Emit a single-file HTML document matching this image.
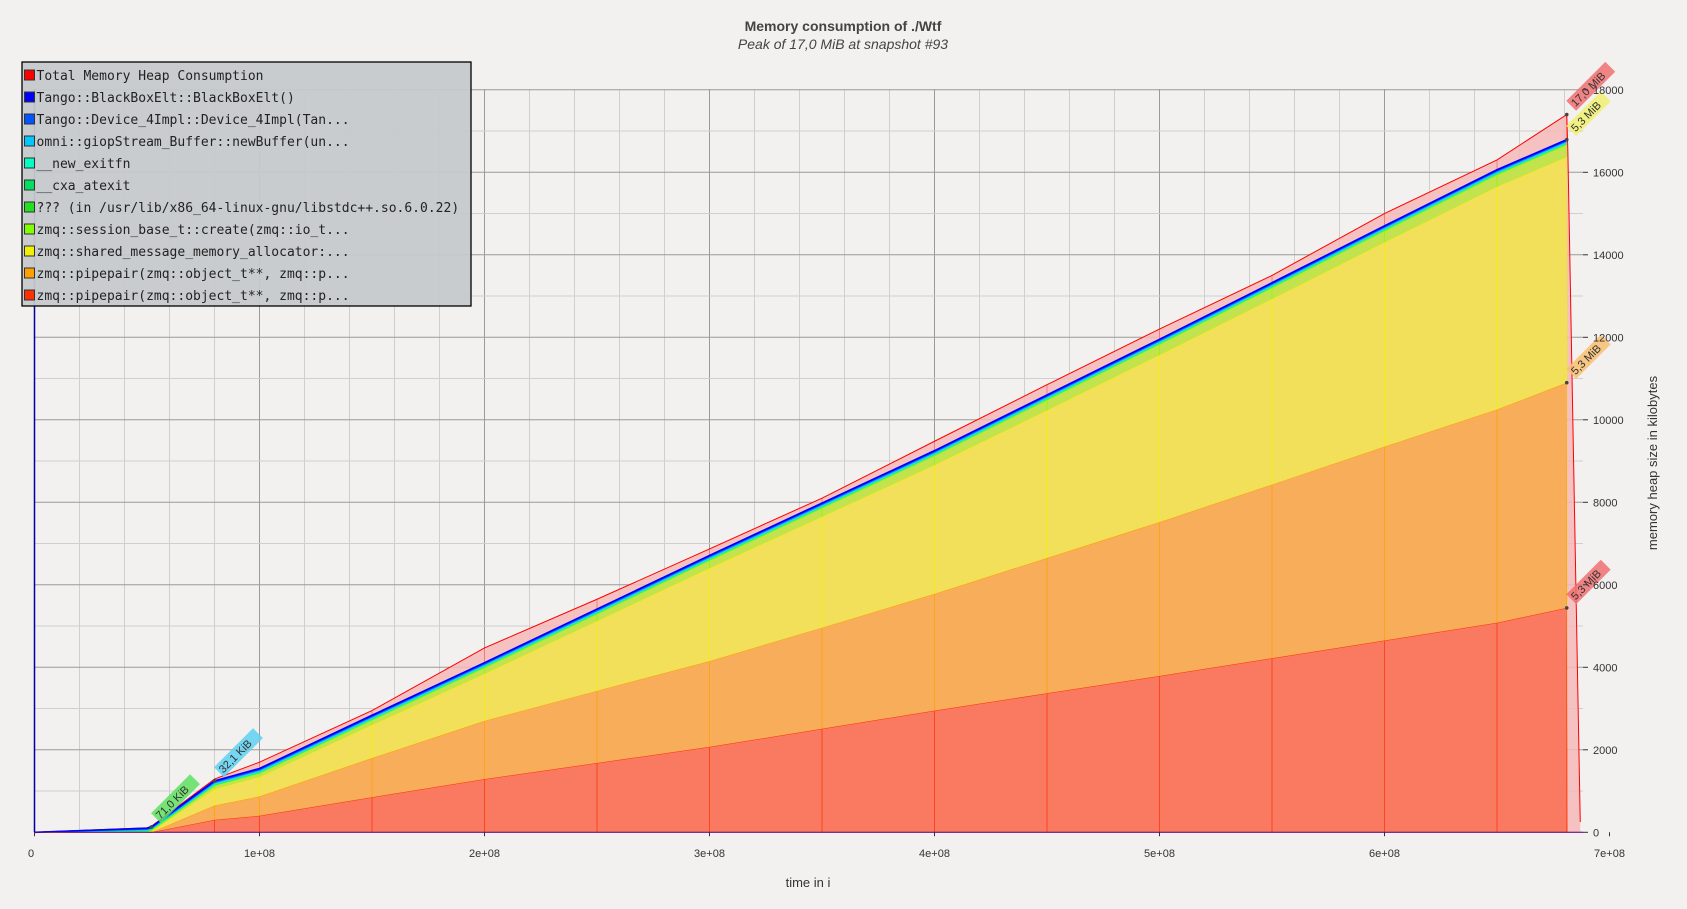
<!DOCTYPE html>
<html><head><meta charset="utf-8">
<style>
body{margin:0;background:#f2f1ef;}
svg{display:block;font-family:"Liberation Sans","DejaVu Sans",sans-serif;}
.leg{font-family:"DejaVu Sans Mono","Liberation Mono",monospace;font-size:13px;fill:#222;}
</style></head>
<body>
<svg id="chart" width="1687" height="909" viewBox="0 0 1687 909" xmlns="http://www.w3.org/2000/svg">
<rect width="1687" height="909" fill="#f2f1ef"/>
<g id="grid"></g>
<g id="layers"></g>
<g id="axes"></g>
<text x="843" y="31" text-anchor="middle" font-size="14" font-weight="bold" fill="#444">Memory consumption of ./Wtf</text>
<text x="843" y="49" text-anchor="middle" font-size="14" font-style="italic" fill="#444">Peak of 17,0 MiB at snapshot #93</text>
<text x="808" y="887" text-anchor="middle" font-size="13" fill="#333">time in i</text>
<text transform="translate(1657,463) rotate(-90)" text-anchor="middle" font-size="13" fill="#333">memory heap size in kilobytes</text>
<g id="legend"></g>
</svg>
<script>
const times = [0,0.5,0.52,0.8,1,1.5,2,2.5,3,3.5,4,4.5,5,5.5,6,6.5,6.81,6.815,6.87];
const layerNames = ["zmq::pipepair(zmq::object_t**, zmq::p...","zmq::pipepair(zmq::object_t**, zmq::p...","zmq::shared_message_memory_allocator:...","zmq::session_base_t::create(zmq::io_t...","??? (in /usr/lib/x86_64-linux-gnu/libstdc++.so.6.0.22)","__cxa_atexit","__new_exitfn","omni::giopStream_Buffer::newBuffer(un...","Tango::Device_4Impl::Device_4Impl(Tan...","Tango::BlackBoxElt::BlackBoxElt()"];
const redVals    = [0,0,0,300,400,850,1290,1680,2070,2510,2950,3370,3790,4220,4650,5080,5440,0,0];
const orangeVals = [0,0,0,350,470,950,1410,1750,2080,2450,2830,3280,3730,4210,4700,5170,5460,0,0];
const yellowVals = [0,0,20,400,470,800,1140,1690,2250,2690,3120,3580,4050,4500,4950,5400,5470,0,0];
const limeVals   = [0,20,30,80,90,120,150,170,190,210,230,250,260,270,280,290,300,0,0];
const greenVals  = [0,15,15,20,20,20,25,25,25,25,25,25,25,25,25,25,25,0,0];
const cxaVals    = [0,5,5,5,5,5,5,5,5,5,5,5,5,5,5,5,5,0,0];
const exitVals   = [0,5,5,5,5,5,5,5,5,5,5,5,5,5,5,5,5,0,0];
const omniVals   = [0,10,10,32,32,32,32,32,32,32,32,32,32,32,32,32,32,0,0];
const devVals    = [0,20,20,25,25,25,25,25,25,25,25,25,25,25,25,25,25,0,0];
const bbVals     = [0,25,25,30,30,30,30,30,30,30,30,30,30,30,30,30,30,0,0];
const totalVals  = [0,110,150,1290,1700,2950,4470,5650,6870,8100,9480,10850,12200,13500,15000,16300,17400,16500,250];
const yTicks = [0,2000,4000,6000,8000,10000,12000,14000,16000,18000];
const xTicks = [0,1,2,3,4,5,6,7];
const xTickLabels = ["0","1e+08","2e+08","3e+08","4e+08","5e+08","6e+08","7e+08"];

const fills = ["#f97a60","#f8ad5a","#f3e05a","#c2e24e","#6fe060","#40e880","#40e8c8","#40c8f0","#3070f0","#2020f0"];
const strokes = ["#ff3000","#ffa000","#f0f000","#80ff00","#20ff20","#00ff60","#00ffc0","#00c0ff","#0060ff","#0000ff"];
const legColors = ["#ff0000","#0000ff","#0055ff","#00c8ff","#00ffc0","#00e060","#20e020","#80ff00","#f0f000","#ffa000","#ff3000"];
const legNames = ["Total Memory Heap Consumption"].concat(layerNames.slice().reverse());

const X0=34.5, XS=225, Y0=832.3, YS=0.04125, XR=1583;
const xs = t => X0 + t*XS;
const ys = v => Y0 - v*YS;
const NS="http://www.w3.org/2000/svg";
function mk(tag, parent, attrs){const e=document.createElementNS(NS,tag);for(const k in attrs)e.setAttribute(k,attrs[k]);parent.appendChild(e);return e;}

const grid=document.getElementById('grid');
for(let i=0;i<=34;i++){const x=X0+i*45;const major=i%5===0;
  const l=mk('line',grid,{x1:x,x2:x,y1:89,y2:Y0,stroke:major?'#9a9a9a':'#cfcfcf','stroke-width':1});
  }
for(let v=0;v<=18000;v+=1000){const y=ys(v);const major=v%2000===0;
  const l=mk('line',grid,{x1:X0,x2:XR,y1:y,y2:y,stroke:major?'#9a9a9a':'#cfcfcf','stroke-width':1});
  }

const layers=[redVals,orangeVals,yellowVals,limeVals,greenVals,cxaVals,exitVals,omniVals,devVals,bbVals];
const lg=document.getElementById('layers');
let base=times.map(()=>0);
const tops=[];
layers.forEach((vals,li)=>{
  const top=vals.map((v,i)=>base[i]+v);
  let d='M'+times.map((t,i)=>xs(t)+','+ys(top[i])).join(' L');
  for(let i=times.length-1;i>=0;i--) d+=' L'+xs(times[i])+','+ys(base[i]);
  const p=mk('path',lg,{d:d+'Z',fill:fills[li],'fill-opacity':li<4?1:0.8,stroke:'none'});
  
  
  for(let i=1;i<times.length-1;i++){ if(vals[i]>50){
    const v=mk('line',lg,{x1:xs(times[i]),x2:xs(times[i]),y1:ys(top[i]),y2:ys(base[i]),stroke:strokes[li],'stroke-width':1,'stroke-opacity':0.7});
    }}
  const ln=mk('polyline',lg,{points:times.slice(0,-2).map((t,i)=>xs(t)+','+ys(top[i])).join(' '),fill:'none',stroke:strokes[li],'stroke-width':1});
  
  
  tops.push(top); base=top;
});
{const stackTop=base;
 let d='M'+times.map((t,i)=>xs(t)+','+ys(Math.max(totalVals[i],stackTop[i]))).join(' L');
 for(let i=times.length-1;i>=0;i--) d+=' L'+xs(times[i])+','+ys(stackTop[i]);
 const p=mk('path',lg,{d:d+'Z',fill:'#f6b8b8','fill-opacity':0.85,stroke:'none'});
 
 for(let i=1;i<times.length-2;i++){
  const v=mk('line',lg,{x1:xs(times[i]),x2:xs(times[i]),y1:ys(totalVals[i]),y2:ys(stackTop[i]),stroke:'#ff5050','stroke-width':1,'stroke-opacity':0.6});
  }
 const ln=mk('polyline',lg,{points:times.map((t,i)=>xs(t)+','+ys(totalVals[i])).join(' '),fill:'none',stroke:'#ff0000','stroke-width':1});
 
 const bl=mk('polyline',lg,{points:times.slice(0,-2).map((t,i)=>xs(t)+','+ys(stackTop[i])).join(' '),fill:'none',stroke:'#0000ff','stroke-width':1.6});
 
}
const pk=16;
const ann=[
 {t:times[pk],v:totalVals[pk],txt:"17,0 MiB",bg:"#f07070"},
 {t:times[pk],v:tops[9][pk],txt:"5,3 MiB",bg:"#f0f070"},
 {t:times[pk],v:tops[1][pk],txt:"5,3 MiB",bg:"#f8c070"},
 {t:times[pk],v:tops[0][pk],txt:"5,3 MiB",bg:"#f07070"},
 {t:times[3],v:tops[9][3],txt:"32,1 KiB",bg:"#60d0f0"},
 {t:times[2],v:tops[9][2],txt:"71,0 KiB",bg:"#60e060"}];
ann.forEach(a=>{const x=xs(a.t),y=ys(a.v);
  const dot=mk('circle',lg,{cx:x,cy:y,r:1.8,fill:'#444'});
  
  const g=mk('g',lg,{transform:`translate(${x+8},${y-8}) rotate(-45)`});
  
  mk('rect',g,{x:-2,y:-10,width:a.txt.length*6.4+4,height:14,fill:a.bg,'fill-opacity':0.85});
  const tx=mk('text',g,{x:0,y:1,'font-size':11,fill:'#333'});tx.textContent=a.txt;
});
const ax=document.getElementById('axes');
const la=mk('line',ax,{x1:X0,x2:X0,y1:89,y2:Y0,stroke:'#0000a0','stroke-width':1.5});

const ba=mk('line',ax,{x1:X0,x2:XR,y1:Y0,y2:Y0,stroke:'#600080','stroke-width':1});

yTicks.forEach(v=>{const y=ys(v);
  const t=mk('line',ax,{x1:1583,x2:1588,y1:y,y2:y,stroke:'#333'});
  
  const tx=mk('text',ax,{x:1593,y:y+4,'font-size':11,fill:'#333'});
  tx.textContent=v;});
xTicks.forEach((t,i)=>{const x=xs(t);
  const tk=mk('line',ax,{x1:x,x2:x,y1:Y0,y2:Y0+4,stroke:'#333'});
  
  const tx=mk('text',ax,{x:i===0?31:x,y:857,'font-size':11,fill:'#333','text-anchor':'middle'});
  tx.textContent=xTickLabels[i];});
const leg=document.getElementById('legend');
const box=mk('rect',leg,{x:22,y:62,width:449,height:244,fill:'#c5c9cb','fill-opacity':0.95,stroke:'#000','stroke-width':1.3});

legNames.forEach((n,i)=>{const y=75.5+i*22;
  const g=mk('g',leg,{});
  
  mk('rect',g,{x:24.5,y:y-5.5,width:10,height:10,fill:legColors[i],stroke:'#333','stroke-width':1});
  const t=mk('text',g,{x:36.5,y:y+4.5,class:'leg'});t.textContent=n;});
</script>
</body></html>
